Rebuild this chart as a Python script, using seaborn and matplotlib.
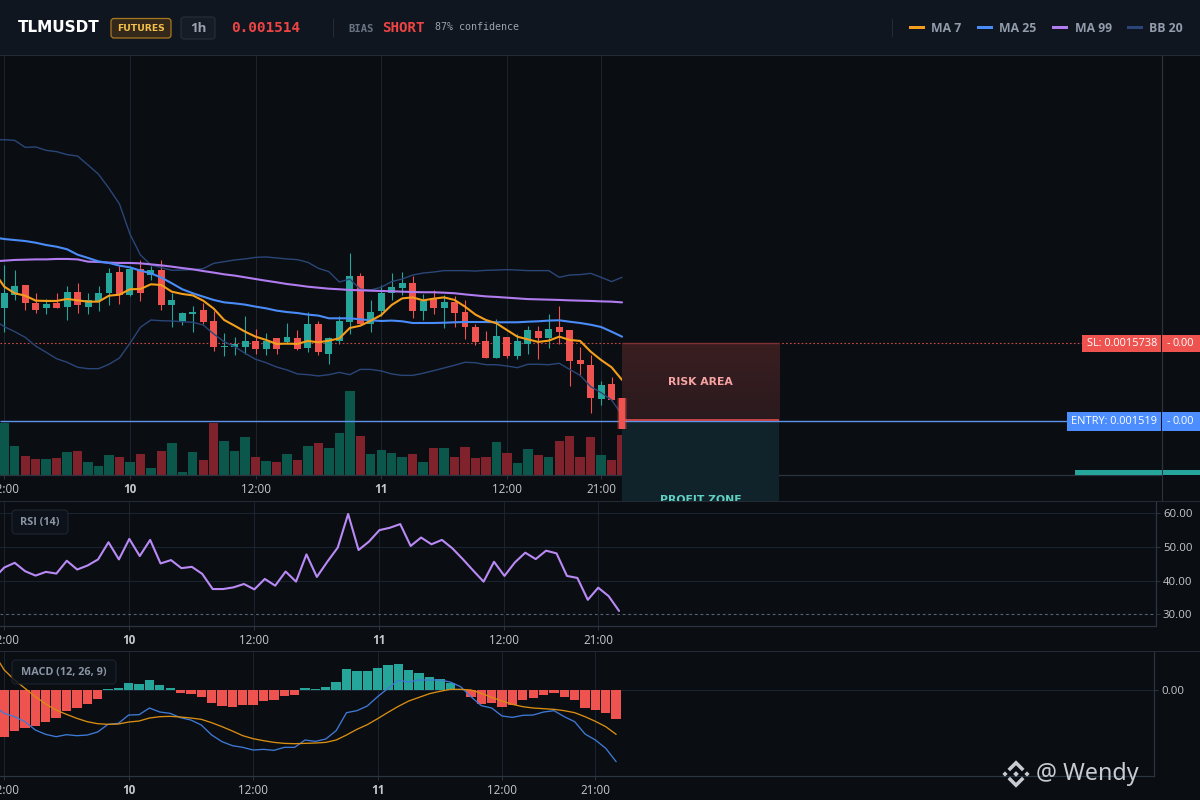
import numpy as np
import pandas as pd
import matplotlib
matplotlib.use("Agg")
import matplotlib.pyplot as plt
from matplotlib.patches import Rectangle, FancyBboxPatch, Polygon
from matplotlib.transforms import Bbox, TransformedBbox
import seaborn as sns

# ---- data (prices in 1e-6 USDT) ----
open_ = [1599,1607.9,1614.9,1602.3,1598.7,1602.5,1599.4,1610,1599.4,1603.7,
         1609.3,1624,1607.9,1626.1,1622,1625.5,1600.9,1589.6,1594.8,1597.3,
         1589.6,1571.6,1571.3,1571.3,1575.6,1569.9,1577.7,1574.9,1577.7,1570.6,
         1587.5,1566.4,1575.6,1588.9,1621.2,1587.5,1596.6,1609.3,1612.8,1616.3,
         1596.6,1605.8,1598.7,1603,1595.9,1585.4,1575.6,1563.6,1578.4,1565,
         1573.4,1582.6,1577.7,1585.4,1583.3,1562.2,1558.7,1534.8,1545.4,1535.5]
high_ = [1629,1625.5,1614.9,1609.1,1604.8,1609.1,1614.2,1616.5,1609.1,1614.2,
         1627.1,1628.3,1627.8,1632.5,1628.3,1632.5,1609.1,1596.2,1600.1,1602,
         1596.6,1581.2,1578.4,1593.1,1584,1581.2,1577.7,1588.2,1583.3,1595.9,
         1589.6,1578.4,1593.1,1637.4,1623.3,1604.4,1614.9,1623.3,1624,1621.2,
         1608.6,1611.4,1607.9,1607.2,1604.4,1587.5,1582.6,1591,1578.4,1580.5,
         1586.1,1586.1,1594.5,1600.1,1583.3,1571.3,1565.7,1547.5,1550.3,1535.5]
low_ = [1582.1,1604.4,1597.3,1595.5,1594.5,1598.7,1590.3,1595.5,1594.5,1596.6,
        1600.9,1601.6,1607.2,1603.7,1618.4,1597.3,1585.4,1586.8,1582.1,1587.5,
        1568.5,1565,1565.7,1566.4,1566.4,1565.7,1566.4,1573.4,1569.2,1567.8,
        1565.7,1559.4,1573.4,1580.5,1587.5,1581.9,1593.1,1604.4,1607.9,1591.7,
        1590.3,1594.5,1584.7,1585.4,1577,1572.8,1563.6,1563.6,1563.6,1562.9,
        1566.4,1562.9,1570.6,1573.4,1544,1551,1525,1530.6,1534.1,1513.7]
close_ = [1609.1,1614.2,1602.5,1597.3,1601.6,1598.7,1610,1600.9,1604.4,1609.3,
          1623.3,1607.9,1626.1,1609.3,1625.5,1600.9,1604.4,1595.2,1595.9,1588.9,
          1571.3,1572,1573.4,1575.6,1569.9,1575.6,1569.9,1578.4,1569.9,1587.5,
          1567.8,1577.7,1589.6,1621.2,1587.5,1595.9,1609.3,1613.5,1616.3,1596.6,
          1603.7,1598.7,1603,1595.2,1585.4,1574.9,1563.6,1579.1,1565,1575.6,
          1583.3,1577.7,1584,1581.9,1561.5,1559.4,1535.5,1544.6,1534.1,1513.7]
volume = [156,88,58,49,49,52,70,73,40,28,61,55,40,64,22,73,97,10,70,46,
          157,103,73,115,55,43,40,64,46,88,97,82,127,253,118,64,76,67,55,64,
          40,82,82,55,85,52,55,100,67,37,79,61,55,103,118,55,115,61,46,121]
# the line series start one candle before the left edge of the chart
ma7 = [1624.3,1613.7,1609.1,1607.4,1603.9,1603.7,1603.7,1605.1,1604.1,1603.2,1603.2,
       1607.4,1608.1,1611.9,1612.1,1615.4,1614.9,1610.2,1608.6,1607.6,1603.9,
       1598.3,1590.3,1586.3,1582.1,1578.6,1576.3,1573.5,1573.7,1573.5,1575.6,
       1574.6,1575.8,1577.4,1584.7,1586.3,1589.8,1593.8,1600.9,1605.5,1606.2,
       1604.1,1605.3,1606.2,1604.4,1599.7,1594.1,1590.3,1588,1583.3,1578.6,
       1576.7,1574.9,1575.8,1578.6,1576.3,1575.6,1568.1,1562.2,1557.1,1548.2]
ma25 = [1648.4,1647.2,1646.5,1645.8,1644.6,1643,1641.8,1640,1636.2,1633.9,1631.5,
        1630.4,1628.5,1627.3,1625,1623.1,1620.1,1616.1,1611.9,1609.1,1606.7,
        1604.4,1602.7,1602,1601.1,1599.7,1598.5,1596.9,1595.9,1595.2,1594.1,
        1593.4,1591.5,1591.5,1591.5,1590.8,1590.1,1589.6,1589.9,1589.4,1588.2,
        1588.2,1588.2,1588.4,1588.7,1588.9,1588.9,1588.9,1588.7,1588.7,1588.7,
        1589.1,1589.4,1589.9,1590.1,1589.1,1588.2,1587,1585.4,1582.1,1578.6]
ma99 = [1631.5,1632,1632.5,1632.7,1632.9,1632.9,1633.2,1633.2,1632.9,1631.3,1631.1,
        1630.6,1630.4,1630.4,1630.1,1629.4,1628.7,1627.8,1626.8,1625.9,1624.7,
        1623.6,1622.4,1621.5,1620.3,1619.1,1617.9,1616.8,1615.6,1614.7,1613.7,
        1613,1612.3,1611.9,1611.4,1611.2,1610.9,1610.7,1610.5,1610.2,1610,
        1609.8,1609.8,1609.5,1609.1,1608.3,1607.6,1606.9,1606.5,1606,1605.5,
        1605,1604.8,1604.6,1604.4,1604.1,1603.9,1603.7,1603.4,1603.2,1602.7]
bb_upper = [1716.8,1717,1716.5,1711.6,1711.9,1709.5,1708.6,1706.5,1705.5,1699.2,1692.7,
            1682.8,1671.8,1650.7,1636,1629,1627.1,1625.2,1625.4,1625.7,1626.4,
            1630.1,1631.3,1632.5,1633.2,1634.3,1634.6,1633.9,1633.2,1632.7,1630.8,
            1626.6,1624.3,1617,1619.1,1611.9,1611.4,1613.3,1617.3,1619.1,1621.9,
            1623.3,1624,1625,1625,1625,1624.7,1625.2,1625.4,1625.7,1625.4,
            1625,1625,1625,1620.3,1621.9,1622.2,1623.1,1620.3,1617.3,1620.3]
bb_lower = [1590.3,1585.6,1582.1,1578.1,1572,1567.6,1563.1,1560.6,1557.1,1556.1,1556.1,
            1559.2,1563.6,1573.9,1585.2,1590.3,1589.8,1589.6,1589.1,1588.7,1586.8,
            1580.5,1575.1,1571.6,1566.9,1562.7,1560.3,1557.3,1555.2,1552.4,1551.9,
            1551,1551.9,1553.5,1551.9,1555.6,1555.6,1554.5,1552.4,1551.4,1551.4,
            1552.9,1554.7,1556.6,1558.5,1560.6,1560.3,1558.9,1558.9,1558,1556.8,
            1559.2,1559.2,1558.9,1559.9,1555.6,1551.4,1543.5,1539.3,1534.1,1523.6]
rsi = [40.7,43.9,45.3,42.8,41.5,42.6,42.1,45.9,43.3,44.5,46.3,
       51.4,46.3,52.4,47.3,52.1,45.1,46.1,43.7,44.1,42,
       37.5,37.5,38,39,37.4,40.5,38.5,42.7,39.7,47.8,
       41.1,45.6,49.8,59.8,49.1,51.6,55,55.7,56.8,50.3,
       52.8,50.8,52.1,49.6,46.4,43,39.7,45.6,41.4,45.4,
       48.3,46.4,48.9,48.1,41.4,40.8,34.3,37.9,35.4,31]
macd_hist = [-7,-6.1,-5.65,-5.4,-4.75,-4.2,-3.1,-2.65,-2.1,-1.3,
             0.15,0.25,1.05,0.9,1.5,0.75,0.35,-0.4,-0.55,-1,
             -1.95,-2.4,-2.55,-2.25,-2.25,-1.65,-1.5,-0.9,-0.75,0.35,
             0.15,0.45,1.2,3.15,2.85,2.85,3.3,3.75,3.9,3,
             2.55,1.95,1.65,1.05,0.15,-1.05,-2.1,-1.95,-2.55,-2.25,
             -1.5,-1.2,-0.75,-0.45,-1.05,-1.5,-2.7,-3,-3.45,-4.35]
macd_line = [-2.4,-3.5,-4,-4.75,-6,-6.65,-7,-6.7,-6.85,-6.75,-6.3,
             -5.15,-5,-3.75,-3.7,-2.7,-3.3,-3.5,-4.15,-4.5,-5.25,
             -6.75,-7.75,-8.35,-8.6,-9,-8.9,-9.05,-8.6,-8.6,-7.5,
             -7.7,-7.35,-6.1,-3.4,-3.1,-2.4,-1,0.25,1.45,1.2,
             1.5,1.5,1.5,1.2,0.5,-1,-2.35,-2.7,-3.9,-4.1,
             -3.8,-3.75,-3.3,-3.1,-4,-4.75,-6.6,-7.5,-8.75,-10.75]
macd_signal = [5.5,3,1.5,0.25,-1,-2.1,-3,-3.65,-4.25,-4.75,-5.05,
               -5.15,-5.1,-4.8,-4.65,-4.2,-4,-3.95,-4.05,-4.2,-4.4,
               -4.9,-5.5,-6.15,-6.85,-7.3,-7.6,-7.85,-8,-8.05,-8,
               -7.95,-7.85,-7.5,-6.75,-5.9,-5.2,-4.3,-3.35,-2.45,-1.65,
               -1.1,-0.55,-0.2,0.1,0.1,0,-0.5,-1.1,-1.65,-2.15,
               -2.5,-2.7,-2.8,-2.9,-3.1,-3.4,-4,-4.7,-5.5,-6.65]
tick_pos = [0, 12, 24, 36, 48, 57]
tick_labels = ["12:00", "10", "12:00", "11", "12:00", "21:00"]
bold_ticks = ["10", "11"]
rsi_ticks = [30, 40, 50, 60]
sl_price = 1573.8
entry_price = 1519.0

# ---- style ----
BG = "#0a0d12"; HEAD = "#0f1620"; GRID = "#1a2330"; LINE = "#2a3542"
GREEN = "#26a69a"; RED = "#ef5350"; VGREEN = "#0b574b"; VRED = "#7f222c"
C7 = "#f59e1b"; C25 = "#4a8cf7"; C99 = "#b07cf0"; CBB = "#2a4678"
TICK = "#c4c9d0"

sns.set_theme(style="dark", rc={"axes.facecolor": BG, "figure.facecolor": BG,
                                "savefig.facecolor": BG, "patch.linewidth": 0,
                                "patch.edgecolor": "none", "patch.force_edgecolor": False})
plt.rcParams["font.family"] = ["Open Sans", "DejaVu Sans"]

fig = plt.figure(figsize=(12, 8), dpi=100)
W, H = 1200.0, 800.0
def rect(l, t, r, b):
    return [l / W, 1 - b / H, (r - l) / W, (b - t) / H]

candles = pd.DataFrame({"i": np.arange(len(open_)), "o": open_, "h": high_, "l": low_,
                        "c": close_, "vol": volume, "hist": macd_hist})
candles["up"] = candles["c"] >= candles["o"]
line_x = np.arange(-1, len(open_))
lines = pd.DataFrame({"i": line_x, "ma7": ma7, "ma25": ma25, "ma99": ma99, "up": bb_upper,
                      "lo": bb_lower, "rsi": rsi, "macd": macd_line, "sig": macd_signal})

def style_time(ax, xlim):
    ax.set_xlim(*xlim)
    ax.set_xticks(tick_pos)
    ax.set_xticklabels(tick_labels, fontsize=8.4, color=TICK)
    for t in ax.get_xticklabels():
        if t.get_text() in bold_ticks:
            t.set_fontweight("bold")
    ax.tick_params(axis="x", length=3, width=0.7, color=LINE, pad=2.8, bottom=True)
    ax.set_xlabel(""); ax.set_ylabel("")
    ax.xaxis.grid(True, color=GRID, lw=0.8)
    ax.set_axisbelow(True)
    for s in ["top", "left"]:
        ax.spines[s].set_visible(False)
    for s in ["right", "bottom"]:
        ax.spines[s].set_color(LINE); ax.spines[s].set_linewidth(0.9); ax.spines[s].set_visible(True)

# ---- main pane: volume underneath ----
xlim_main = (-0.41, 110.57)
ax_vol = fig.add_axes(rect(0, 56, 1162, 475), zorder=1)
sns.barplot(data=candles, x="i", y="vol", hue="up", palette={True: VGREEN, False: VRED},
            native_scale=True, dodge=False, width=0.9, saturation=1, legend=False, ax=ax_vol,
            linewidth=0, edgecolor="none")
ax_vol.set_ylim(0, 1257)
ax_vol.set_yticks([])
style_time(ax_vol, xlim_main)

ax = fig.add_axes(rect(0, 56, 1162, 475), zorder=2)
ax.patch.set_alpha(0)
ax.set_xlim(*xlim_main); ax.set_ylim(1481.4, 1775.8)
ax.set_xticks([]); ax.set_yticks([])
for s in ax.spines.values():
    s.set_visible(False)

candle_colors = [GREEN if u else RED for u in candles["up"]]
ax.vlines(candles["i"], candles["l"], candles["h"], colors=candle_colors, lw=0.8, zorder=3)
ax.bar(candles["i"], (candles["c"] - candles["o"]).abs().clip(lower=0.7),
       bottom=candles[["o", "c"]].min(axis=1), width=0.66, color=candle_colors, zorder=4,
       linewidth=0, edgecolor="none")

for col, c, lw, z in [("up", CBB, 1.0, 5), ("lo", CBB, 1.0, 5), ("ma99", C99, 1.5, 6),
                      ("ma25", C25, 1.5, 7), ("ma7", C7, 1.5, 8)]:
    sns.lineplot(data=lines, x="i", y=col, color=c, lw=lw, ax=ax, zorder=z, legend=False, errorbar=None)
ax.set_xlabel(""); ax.set_ylabel("")

# stop and entry levels
ax.hlines(sl_price, xlim_main[0], 102.9, colors=RED, lw=0.8, ls=(0, (1.5, 2)), zorder=3, alpha=0.85)
ax.hlines(entry_price, xlim_main[0], 101.5, colors="#5f92ea", lw=1.0, zorder=9)

# risk and profit boxes
grad = np.linspace(0, 1, 64).reshape(-1, 1)
cm = matplotlib.colors.LinearSegmentedColormap.from_list("r", ["#2a1a1e", "#3a1e20"])
ax.imshow(grad, extent=(59, 74, entry_price, sl_price), origin="lower", aspect="auto", cmap=cm, zorder=8.5)
ax.hlines(sl_price, 59, 74, colors="#7c3033", lw=1.0, zorder=9)
ax.hlines(entry_price + 0.7, 59, 74, colors=RED, lw=1.2, alpha=0.9, zorder=9)
ax.add_patch(Rectangle((59, 1463.1), 15, entry_price - 1463.1, fc="#10222a", ec="none", zorder=8.5, clip_on=False))
ax.text(66.5, 1546.5, "RISK AREA", color="#f7a3a3", fontsize=7.8, fontweight="bold",
        ha="center", va="center", zorder=10, family=["DejaVu Sans"])
t = ax.text(66.5, 1463.8, "PROFIT ZONE", color="#5fd0c2", fontsize=7.8, fontweight="bold",
            ha="center", va="center", zorder=10, family=["DejaVu Sans"], clip_on=True)
t.set_clip_box(TransformedBbox(Bbox([[0, 1 - 501 / H], [1, 1]]), fig.transFigure))
ax.set_xlim(*xlim_main); ax.set_ylim(1481.4, 1775.8)

# glow on the live candle
for wd, al in [(1.0, 0.25), (0.8, 0.35)]:
    ax.bar(59, candles["o"].iloc[-1] - candles["c"].iloc[-1], bottom=candles["c"].iloc[-1],
           width=wd, color=RED, alpha=al, zorder=10, linewidth=0, edgecolor="none")
ax.bar(59, candles["o"].iloc[-1] - candles["c"].iloc[-1], bottom=candles["c"].iloc[-1],
       width=0.62, color=RED, zorder=11, linewidth=0, edgecolor="none")

# ---- RSI ----
ax_r = fig.add_axes(rect(0, 502, 1156, 625.5), zorder=1)
sns.lineplot(data=lines, x="i", y="rsi", color="#b98af5", lw=1.5, ax=ax_r, legend=False, errorbar=None)
ax_r.set_ylim(26.67, 63.36)
style_time(ax_r, (-0.41, 110.53))
ax_r.yaxis.tick_right()
ax_r.set_yticks(rsi_ticks)
ax_r.set_yticklabels([f"{v:.2f}" for v in rsi_ticks], fontsize=8.2, color=TICK)
ax_r.tick_params(axis="y", length=3, width=0.7, color=LINE, pad=2, right=True)
ax_r.yaxis.grid(True, color=GRID, lw=0.8)
ax_r.axhline(30, color=BG, lw=1.2, zorder=1.5)
ax_r.axhline(30, color="#566373", lw=0.8, ls=(0, (2.5, 2.5)), zorder=1.6)

# ---- MACD ----
ax_m = fig.add_axes(rect(0, 652, 1154, 775.5), zorder=1)
sns.barplot(data=candles.assign(pos=candles["hist"] >= 0), x="i", y="hist", hue="pos",
            palette={True: GREEN, False: RED}, native_scale=True, dodge=False, width=0.9,
            saturation=1, legend=False, ax=ax_m, linewidth=0, edgecolor="none")
sns.lineplot(data=lines, x="i", y="macd", color="#3f7ad6", lw=0.95, ax=ax_m, legend=False, errorbar=None)
sns.lineplot(data=lines, x="i", y="sig", color="#d88e12", lw=0.95, ax=ax_m, legend=False, errorbar=None)
ax_m.set_ylim(-12.82, 5.7)
style_time(ax_m, (-0.41, 110.86))
ax_m.yaxis.tick_right()
ax_m.set_yticks([0])
ax_m.set_yticklabels(["0.00"], fontsize=8.2, color=TICK)
ax_m.tick_params(axis="y", length=3, width=0.7, color=LINE, pad=2, right=True)
ax_m.yaxis.grid(True, color=GRID, lw=0.8)

# ---- chrome drawn in picture pixels ----
ov = fig.add_axes([0, 0, 1, 1], zorder=20)
ov.set_xlim(0, W); ov.set_ylim(H, 0); ov.axis("off"); ov.patch.set_alpha(0)

def box(l, t, r, b, fc, ec="none", lw=0.8, z=1):
    ov.add_patch(Rectangle((l, t), r - l, b - t, fc=fc, ec=ec, lw=lw, zorder=z))
def rbox(l, t, r, b, fc, ec, rad=3, lw=0.9, z=2, alpha=1):
    ov.add_patch(FancyBboxPatch((l + rad, t + rad), r - l - 2 * rad, b - t - 2 * rad,
                                boxstyle=f"round,pad={rad},rounding_size={rad}",
                                fc=fc, ec=ec, lw=lw, zorder=z, alpha=alpha))
def txt(x, y, s, c, size, weight="normal", ha="left", fam=None, z=5):
    ov.text(x, y, s, color=c, fontsize=size, fontweight=weight, ha=ha, va="center",
            family=fam or ["Open Sans", "DejaVu Sans"], zorder=z)

box(0, 0, W, 55, HEAD)
box(0, 55, W, 56, "#232b36")
box(0, 501, W, 502, "#232b36")
box(0, 651, W, 652, "#232b36")

txt(18, 28, "TLMUSDT", "#ffffff", 11, "bold", fam=["DejaVu Sans"])
rbox(111, 18.5, 171, 38, "#33281a", "#a9781f")
txt(141, 28.5, "FUTURES", "#f5c04a", 6.7, "bold", ha="center", fam=["DejaVu Sans"])
rbox(181, 17, 215, 39, "#151c26", "#252d38")
txt(198, 28.5, "1h", "#9aa3af", 9.5, "bold", ha="center", fam=["Open Sans"])
txt(231, 28.5, "0.001514", "#ef4444", 10.4, "bold", fam=["DejaVu Sans Mono"])
box(333, 19, 334, 37, "#232b36")
txt(348, 28.5, "BIAS", "#6b7482", 7.6, "bold", fam=["DejaVu Sans Mono"])
txt(382, 28.5, "SHORT", "#ef4444", 10.2, "bold", fam=["DejaVu Sans Mono"])
txt(435, 27.5, "87% confidence", "#9aa3af", 7.2, fam=["DejaVu Sans Mono"])

box(892, 19, 893, 37, "#232b36")
for x0, x1, tx, s, c in [(909, 925, 931, "MA 7", C7), (977, 993, 999, "MA 25", C25),
                         (1052, 1068, 1075, "MA 99", C99), (1127, 1143, 1149, "BB 20", CBB)]:
    box(x0, 26, x1, 29, c)
    txt(tx, 28.5, s, "#939cab", 8.8, "bold")

# price labels
box(1082, 335, 1161, 352, RED); box(1162, 335, W, 352, RED)
txt(1157, 343.5, "SL: 0.0015738", "#ffffff", 7.9, ha="right")
txt(1167, 343.5, "-", "#ffffff", 7.9); txt(1194, 343.5, "0.00", "#ffffff", 7.9, ha="right")
box(1067, 412, 1161, 431, "#4c8dff"); box(1162, 412, W, 431, "#4c8dff")
txt(1157, 421.5, "ENTRY: 0.001519", "#ffffff", 7.9, ha="right")
txt(1167, 421.5, "-", "#ffffff", 7.9); txt(1194, 421.5, "0.00", "#ffffff", 7.9, ha="right")
box(1075, 470, 1161.5, 475, GREEN); box(1162.5, 470, W, 475, GREEN)
box(1161.5, 56, 1162.5, 501, LINE, z=0.5)

rbox(12, 510, 68, 534, "#0d121a", "#1c2430", rad=4)
txt(40, 522.5, "RSI (14)", "#8b94a3", 7.8, "bold", ha="center")
rbox(12, 660, 116, 684, "#0d121a", "#1c2430", rad=4, alpha=0.85)
txt(64, 672.5, "MACD (12, 26, 9)", "#8b94a3", 7.8, "bold", ha="center")

# watermark
WM = "#c8ccd2"
def diamond(cx, cy, r):
    ov.add_patch(Polygon([(cx, cy - r), (cx + r, cy), (cx, cy + r), (cx - r, cy)], fc=WM, ec="none", zorder=5))
def chevron(cx, cy, sgn):
    ov.add_patch(Polygon([(cx - 8.5, cy + sgn * 2.3), (cx, cy - sgn * 6.2), (cx + 8.5, cy + sgn * 2.3),
                          (cx + 6, cy + sgn * 4.8), (cx, cy - sgn * 1.2), (cx - 6, cy + sgn * 4.8)],
                         fc=WM, ec="none", zorder=5))
diamond(1016, 774, 2.8); diamond(1005, 774, 2.6); diamond(1027, 774, 2.6)
chevron(1016, 766.5, 1); chevron(1016, 781.5, -1)
txt(1036, 774, "@ Wendy", WM, 16.8, fam=["Noto Sans", "DejaVu Sans"])

fig.savefig("out.png", dpi=100)
